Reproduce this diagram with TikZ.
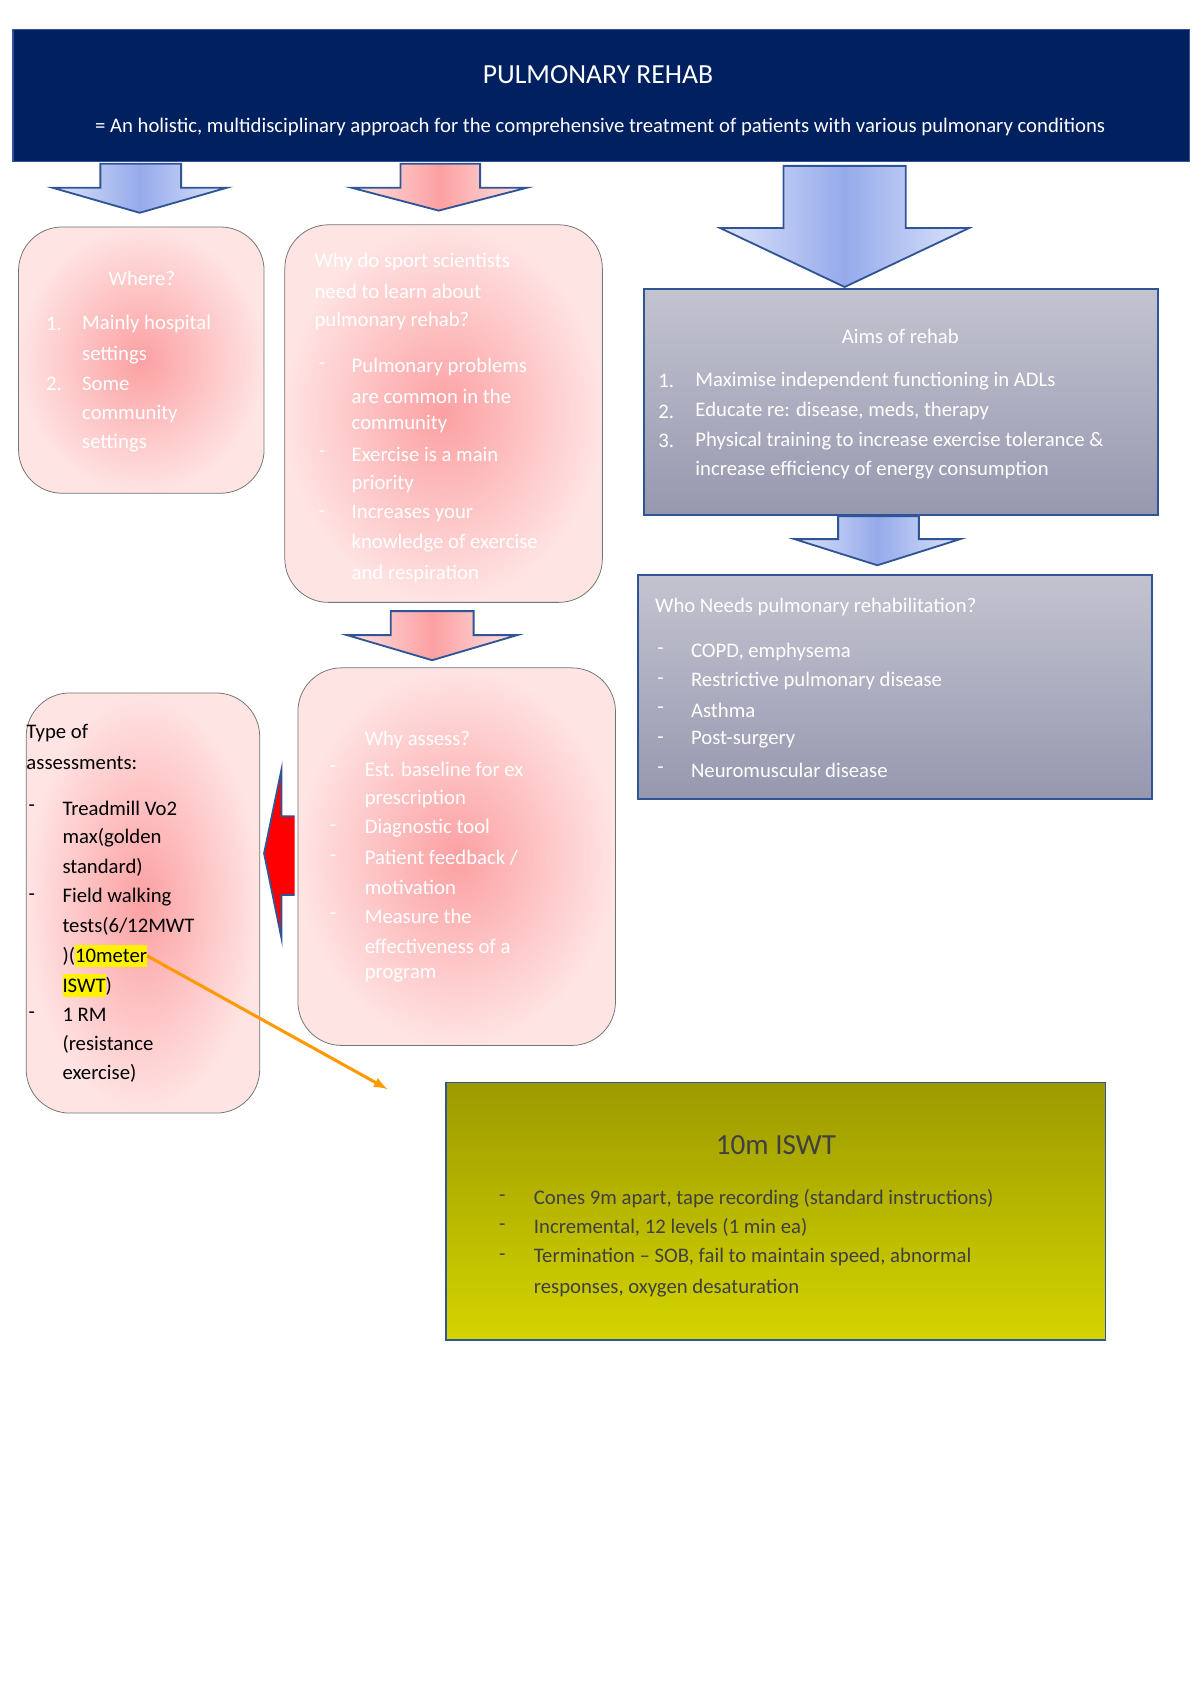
\documentclass[tikz,border=0pt]{standalone}
\usepackage{fontspec}
\setmainfont{Carlito}
\definecolor{navy}{RGB}{0,32,96}
\definecolor{bord}{RGB}{47,85,151}
\definecolor{pinkin}{RGB}{252,160,162}
\definecolor{pinkout}{RGB}{255,228,228}
\definecolor{bluein}{RGB}{150,170,235}
\definecolor{blueout}{RGB}{220,228,250}
\definecolor{graytop}{RGB}{195,195,208}
\definecolor{graybot}{RGB}{150,152,175}
\definecolor{oliv1}{RGB}{156,154,0}
\definecolor{oliv2}{RGB}{212,212,0}
\definecolor{txtd}{RGB}{64,64,64}
\begin{document}
\begin{tikzpicture}[x=0.025cm,y=-0.025cm,
  tx/.style={anchor=west,inner sep=0pt,font=\fontsize{13.5}{16}\selectfont},
  wt/.style={tx,text=white},
  pinkbox/.style={rounded corners=1cm,inner color=pinkin,outer color=pinkout,draw=black!55,line width=0.5pt},
  graybox/.style={top color=graytop,bottom color=graybot,draw=bord,line width=1.2pt},
  barrow/.style={left color=blueout,right color=blueout,middle color=bluein,draw=bord,line width=1.2pt},
  parrow/.style={left color=pinkout,right color=pinkout,middle color=pinkin,draw=bord,line width=1.2pt}]
\useasboundingbox (0,0) rectangle (1100,1556);
% header
\fill[navy,draw=bord,line width=1.2pt] (12,27) rectangle (1090,148);
\node[font=\fontsize{18}{20}\selectfont,text=white] (title) at (548,68) {PULMONARY REHAB};
\node[font=\fontsize{13.5}{16}\selectfont,text=white] (sub) at (550,116) {= An holistic, multidisciplinary approach for the comprehensive treatment of patients with various pulmonary conditions};
% block arrows
\path[barrow] (92,150)--(166,150)--(166,172)--(208,172)--(128,195)--(48,172)--(92,172)--cycle;
\path[parrow] (367,150)--(440,150)--(440,172)--(483,172)--(402,193)--(322,172)--(367,172)--cycle;
\path[barrow] (718,152)--(830,152)--(830,209)--(888,209)--(774,263)--(660,209)--(718,209)--cycle;
\path[barrow] (768,473)--(842,473)--(842,494)--(880,494)--(804,518)--(728,494)--(768,494)--cycle;
\path[parrow] (358,560)--(434,560)--(434,582)--(474,582)--(396,605)--(318,582)--(358,582)--cycle;
% where
\path[pinkbox] (17,208) rectangle (242,452);
\node[wt,anchor=center] (w0) at (130,255) {Where?};
\node[wt] (w1n) at (42,297) {1.};\node[wt] (w1) at (75,297) {Mainly hospital};
\node[wt] (w1b) at (75,325) {settings};
\node[wt] (w2n) at (42,352) {2.};\node[wt] (w2) at (75,352) {Some};
\node[wt] (w2b) at (75,379) {community};
\node[wt] (w2c) at (75,406) {settings};
% why sport
\path[pinkbox] (261,206) rectangle (552,552);
\begin{scope}
\clip[rounded corners=1cm] (261,206) rectangle (552,552);
\node[wt] (s1) at (288,240) {Why do sport scientists};
\node[wt] (s2) at (288,267) {need to learn about};
\node[wt] (s3) at (288,294) {pulmonary rehab?};
\foreach \y in {336,416,471} \node[wt] at (292,\y) {-};
\node[wt] (s4) at (322,336) {Pulmonary problems};
\node[wt] (s5) at (322,363) {are common in the};
\node[wt] (s6) at (322,389) {community};
\node[wt] (s7) at (322,416) {Exercise is a main};
\node[wt] (s8) at (322,444) {priority};
\node[wt] (s9) at (322,471) {Increases your};
\node[wt] (s10) at (322,498) {knowledge of exercise};
\node[wt] (s11) at (322,526) {and respiration};
\end{scope}
% aims
\path[graybox] (590,265) rectangle (1061,472);
\node[wt,anchor=center] (a0) at (825,308) {Aims of rehab};
\node[wt] at (603,349) {1.};\node[wt] (a1) at (637,349) {Maximise independent functioning in ADLs};
\node[wt] at (603,377) {2.};\node[wt] (a2) at (637,377) {Educate re: disease, meds, therapy};
\node[wt] at (603,404) {3.};\node[wt] (a3) at (637,404) {Physical training to increase exercise tolerance \&};
\node[wt] (a4) at (637,431) {increase efficiency of energy consumption};
% who
\path[graybox] (585,527) rectangle (1056,732);
\node[wt] (n0) at (600,556) {Who Needs pulmonary rehabilitation?};
\foreach \y/\t in {597/{COPD, emphysema},624/{Restrictive pulmonary disease},651/{Asthma},678/{Post-surgery},706/{Neuromuscular disease}}{
 \node[wt] at (602,\y) {-}; \node[wt] at (633,\y) {\t};}
% red arrow
\path[fill=red,draw=bord,line width=1.2pt] (270,748)--(258,748)--(258,705)--(242,782)--(258,860)--(258,820)--(270,820);
% why assess
\path[pinkbox] (273,612) rectangle (564,958);
\node[wt] (y0) at (334,678) {Why assess?};
\foreach \y in {705,759,786,840} \node[wt] at (302,\y) {-};
\node[wt] (y1) at (334,705) {Est. baseline for ex};
\node[wt] (y2) at (334,732) {prescription};
\node[wt] (y3) at (334,759) {Diagnostic tool};
\node[wt] (y4) at (334,786) {Patient feedback /};
\node[wt] (y5) at (334,813) {motivation};
\node[wt] (y6) at (334,840) {Measure the};
\node[wt] (y7) at (334,867) {effectiveness of a};
\node[wt] (y8) at (334,894) {program};
% type box
\path[pinkbox] (24,635) rectangle (238,1020);
\node[tx] (t0) at (24,672) {Type of};
\node[tx] (t0b) at (24,699) {assessments:};
\foreach \y in {741,822,930} \node[tx] at (26,\y) {-};
\node[tx] (t1) at (57,741) {Treadmill Vo2};
\node[tx] (t2) at (57,768) {max(golden};
\node[tx] (t3) at (57,795) {standard)};
\node[tx] (t4) at (57,822) {Field walking};
\node[tx] (t5) at (57,849) {tests(6/12MWT};
\node[tx] (t6) at (57,876) {)(\colorbox{yellow}{\hspace{-3pt}10meter\hspace{-3pt}}};
\node[tx] (t7) at (57,903) {\colorbox{yellow}{\hspace{-3pt}ISWT\hspace{-3pt}})};
\node[tx] (t8) at (57,930) {1 RM};
\node[tx] (t9) at (57,957) {(resistance};
\node[tx] (t10) at (57,984) {exercise)};
\coordinate (aend) at (355,998);
\draw[-latex,draw=orange!80!yellow,line width=2pt] (t6.east) -- (aend);
% ISWT box
\path[top color=oliv1,bottom color=oliv2,draw=bord,line width=1.2pt] (409,992) rectangle (1013,1228);
\node[font=\fontsize{19}{22}\selectfont,text=txtd] (i0) at (711,1049) {10m ISWT};
\foreach \y/\t in {1098/{Cones 9m apart, tape recording (standard instructions)},1125/{Incremental, 12 levels (1 min ea)},1152/{Termination -- SOB, fail to maintain speed, abnormal}}{
 \node[tx,text=txtd] at (457,\y) {-}; \node[tx,text=txtd] at (489,\y) {\t};}
\node[tx,text=txtd] (i4) at (489,1180) {responses, oxygen desaturation};
\end{tikzpicture}
\end{document}
